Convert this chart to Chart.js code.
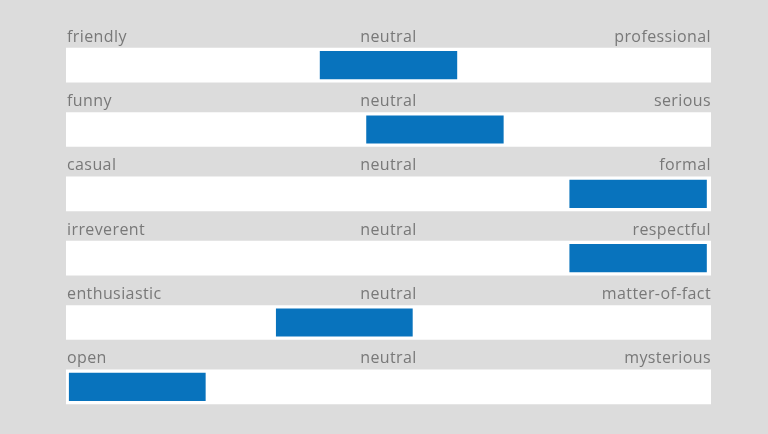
<!DOCTYPE html>
<html>
<head>
<meta charset="utf-8">
<script src="https://cdn.jsdelivr.net/npm/chart.js@4"></script>
<style>
  html, body { margin: 0; padding: 0; background: #dcdcdc; }
  #wrap { width: 768px; height: 434px; }
</style>
</head>
<body>
<div id="wrap"><canvas id="c" width="768" height="434"></canvas></div>
<script>
const categories = ['friendly', 'funny', 'casual', 'irreverent', 'enthusiastic', 'open'];
const rightLabels = ['professional', 'serious', 'formal', 'respectful', 'matter-of-fact', 'mysterious'];
const middleLabel = 'neutral';
const barStart = [39.4, 46.6, 78.1, 78.1, 32.6, 0.5];
const barEnd   = [60.6, 67.8, 99.3, 99.3, 53.7, 21.6];
const trackMin = 0;
const trackMax = 100;

const blueData = categories.map((c, i) => [barStart[i], barEnd[i]]);
const trackData = categories.map(() => [trackMin, trackMax]);

const labelPlugin = {
  id: 'rowLabels',
  afterDatasetsDraw(chart) {
    const ctx = chart.ctx;
    const ys = chart.scales.y;
    const area = chart.chartArea;
    const mid = (area.left + area.right) / 2;
    ctx.save();
    ctx.font = '16px "Open Sans", sans-serif';
    if ('letterSpacing' in ctx) ctx.letterSpacing = '0.4px';
    ctx.fillStyle = '#787878';
    ctx.textBaseline = 'alphabetic';
    categories.forEach((c, i) => {
      const y = ys.getPixelForValue(i) - 17 - 6.5;
      ctx.textAlign = 'left';
      ctx.fillText(c, area.left + 1, y);
      ctx.textAlign = 'center';
      ctx.fillText(middleLabel, mid, y);
      ctx.textAlign = 'right';
      ctx.fillText(rightLabels[i], area.right, y);
    });
    ctx.restore();
  }
};

new Chart(document.getElementById('c'), {
  type: 'bar',
  data: {
    labels: categories,
    datasets: [
      {
        label: 'position',
        data: blueData,
        backgroundColor: '#0873bd',
        borderWidth: 0,
        barThickness: 27.5,
        grouped: false,
        order: 0
      },
      {
        label: 'track',
        data: trackData,
        backgroundColor: '#ffffff',
        borderWidth: 0,
        barThickness: 34,
        grouped: false,
        order: 1
      }
    ]
  },
  options: {
    indexAxis: 'y',
    responsive: false,
    animation: false,
    layout: { padding: { left: 66, right: 57, top: 33, bottom: 15 } },
    plugins: { legend: { display: false }, tooltip: { enabled: false } },
    scales: {
      x: { display: false, min: trackMin, max: trackMax },
      y: { display: false }
    }
  },
  plugins: [labelPlugin]
});
</script>
</body>
</html>
